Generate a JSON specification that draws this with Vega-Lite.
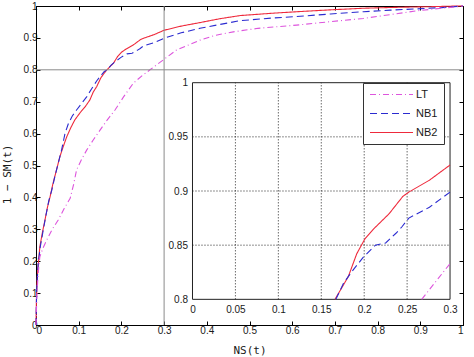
{
  "$schema": "https://vega.github.io/schema/vega-lite/v6.json",
  "width": 427,
  "height": 319,
  "autosize": {"type": "none"},
  "padding": {"left": 36, "top": 6, "right": 11, "bottom": 32},
  "background": "white",
  "config": {
    "view": {"stroke": "#000", "strokeWidth": 1},
    "axis": {"labelFont": "Liberation Sans", "labelFontSize": 10, "labelColor": "#1a1a1a", "domainColor": "#000", "tickColor": "#000", "grid": false, "labelOverlap": false, "tickCount": 20},
    "line": {"strokeWidth": 1.1}
  },
  "datasets": {
    "curves": [
      {"series":"NB2","x":0,"y":0},{"series":"NB2","x":0.001,"y":0.08},{"series":"NB2","x":0.002,"y":0.12},{"series":"NB2","x":0.004,"y":0.17},{"series":"NB2","x":0.009,"y":0.245},{"series":"NB2","x":0.015,"y":0.29},{"series":"NB2","x":0.021,"y":0.329},{"series":"NB2","x":0.027,"y":0.37},{"series":"NB2","x":0.033,"y":0.402},{"series":"NB2","x":0.04,"y":0.445},{"series":"NB2","x":0.048,"y":0.486},{"series":"NB2","x":0.056,"y":0.528},{"series":"NB2","x":0.064,"y":0.56},{"series":"NB2","x":0.072,"y":0.59},{"series":"NB2","x":0.082,"y":0.62},{"series":"NB2","x":0.091,"y":0.643},{"series":"NB2","x":0.103,"y":0.665},{"series":"NB2","x":0.115,"y":0.684},{"series":"NB2","x":0.126,"y":0.705},{"series":"NB2","x":0.134,"y":0.73},{"series":"NB2","x":0.142,"y":0.747},{"series":"NB2","x":0.152,"y":0.775},{"series":"NB2","x":0.16,"y":0.79},{"series":"NB2","x":0.166,"y":0.8},{"series":"NB2","x":0.1815,"y":0.821},{"series":"NB2","x":0.1913,"y":0.842},{"series":"NB2","x":0.201,"y":0.856},{"series":"NB2","x":0.211,"y":0.865},{"series":"NB2","x":0.229,"y":0.879},{"series":"NB2","x":0.245,"y":0.895},{"series":"NB2","x":0.252,"y":0.899},{"series":"NB2","x":0.276,"y":0.91},{"series":"NB2","x":0.3,"y":0.924},{"series":"NB2","x":0.34,"y":0.937},{"series":"NB2","x":0.384,"y":0.948},{"series":"NB2","x":0.43,"y":0.96},{"series":"NB2","x":0.478,"y":0.97},{"series":"NB2","x":0.55,"y":0.977},{"series":"NB2","x":0.61,"y":0.982},{"series":"NB2","x":0.69,"y":0.988},{"series":"NB2","x":0.767,"y":0.993},{"series":"NB2","x":0.85,"y":0.996},{"series":"NB2","x":0.93,"y":0.998},{"series":"NB2","x":0.99,"y":1.0},{"series":"NB2","x":1.0,"y":1.0},
      {"series":"NB1","x":0,"y":0},{"series":"NB1","x":0.001,"y":0.07},{"series":"NB1","x":0.002,"y":0.12},{"series":"NB1","x":0.005,"y":0.19},{"series":"NB1","x":0.01,"y":0.245},{"series":"NB1","x":0.016,"y":0.29},{"series":"NB1","x":0.022,"y":0.335},{"series":"NB1","x":0.03,"y":0.39},{"series":"NB1","x":0.037,"y":0.423},{"series":"NB1","x":0.045,"y":0.47},{"series":"NB1","x":0.052,"y":0.507},{"series":"NB1","x":0.06,"y":0.549},{"series":"NB1","x":0.068,"y":0.601},{"series":"NB1","x":0.076,"y":0.632},{"series":"NB1","x":0.085,"y":0.655},{"series":"NB1","x":0.095,"y":0.674},{"series":"NB1","x":0.107,"y":0.695},{"series":"NB1","x":0.119,"y":0.716},{"series":"NB1","x":0.13,"y":0.74},{"series":"NB1","x":0.142,"y":0.765},{"series":"NB1","x":0.152,"y":0.782},{"series":"NB1","x":0.16,"y":0.795},{"series":"NB1","x":0.167,"y":0.8},{"series":"NB1","x":0.176,"y":0.815},{"series":"NB1","x":0.187,"y":0.827},{"series":"NB1","x":0.199,"y":0.839},{"series":"NB1","x":0.213,"y":0.85},{"series":"NB1","x":0.225,"y":0.852},{"series":"NB1","x":0.237,"y":0.861},{"series":"NB1","x":0.244,"y":0.867},{"series":"NB1","x":0.252,"y":0.875},{"series":"NB1","x":0.276,"y":0.885},{"series":"NB1","x":0.3,"y":0.899},{"series":"NB1","x":0.34,"y":0.916},{"series":"NB1","x":0.384,"y":0.93},{"series":"NB1","x":0.43,"y":0.942},{"series":"NB1","x":0.478,"y":0.954},{"series":"NB1","x":0.55,"y":0.962},{"series":"NB1","x":0.61,"y":0.967},{"series":"NB1","x":0.69,"y":0.975},{"series":"NB1","x":0.767,"y":0.982},{"series":"NB1","x":0.83,"y":0.987},{"series":"NB1","x":0.892,"y":0.991},{"series":"NB1","x":0.95,"y":0.995},{"series":"NB1","x":0.99,"y":0.999},{"series":"NB1","x":1.0,"y":1.0},
      {"series":"LT","x":0,"y":0},{"series":"LT","x":0.002,"y":0.09},{"series":"LT","x":0.005,"y":0.16},{"series":"LT","x":0.009,"y":0.214},{"series":"LT","x":0.016,"y":0.24},{"series":"LT","x":0.025,"y":0.266},{"series":"LT","x":0.038,"y":0.3},{"series":"LT","x":0.052,"y":0.329},{"series":"LT","x":0.066,"y":0.365},{"series":"LT","x":0.08,"y":0.397},{"series":"LT","x":0.088,"y":0.44},{"series":"LT","x":0.095,"y":0.486},{"series":"LT","x":0.107,"y":0.52},{"series":"LT","x":0.119,"y":0.549},{"series":"LT","x":0.134,"y":0.58},{"series":"LT","x":0.15,"y":0.611},{"series":"LT","x":0.167,"y":0.643},{"series":"LT","x":0.185,"y":0.674},{"series":"LT","x":0.205,"y":0.715},{"series":"LT","x":0.228,"y":0.758},{"series":"LT","x":0.248,"y":0.781},{"series":"LT","x":0.267,"y":0.8},{"series":"LT","x":0.283,"y":0.816},{"series":"LT","x":0.3,"y":0.833},{"series":"LT","x":0.329,"y":0.862},{"series":"LT","x":0.384,"y":0.893},{"series":"LT","x":0.42,"y":0.908},{"series":"LT","x":0.462,"y":0.919},{"series":"LT","x":0.52,"y":0.93},{"series":"LT","x":0.61,"y":0.94},{"series":"LT","x":0.69,"y":0.951},{"series":"LT","x":0.767,"y":0.961},{"series":"LT","x":0.83,"y":0.973},{"series":"LT","x":0.892,"y":0.985},{"series":"LT","x":0.95,"y":0.993},{"series":"LT","x":0.99,"y":0.998},{"series":"LT","x":1.0,"y":1.0}
    ]
  },
  "data": {"name": "curves"},
  "layer": [
    {
      "layer": [
        {
          "mark": {"type": "line"},
          "encoding": {
            "x": {"field": "x", "type": "quantitative", "scale": {"domain": [0, 1], "nice": false, "zero": false},
              "axis": {"orient": "bottom", "values": [0,0.1,0.2,0.3,0.4,0.5,0.6,0.7,0.8,0.9,1], "tickCount": 20, "format": "~g", "tickSize": -4, "labelPadding": 4, "labelOverlap": false,
                "title": "NS(t)", "titleFont": "DejaVu Sans Mono", "titleFontSize": 11, "titleFontWeight": "normal", "titleColor": "#1a1a1a", "titleY": 25, "titleBaseline": "middle"}},
            "y": {"field": "y", "type": "quantitative", "scale": {"domain": [0, 1], "nice": false, "zero": false},
              "axis": {"orient": "left", "values": [0,0.1,0.2,0.3,0.4,0.5,0.6,0.7,0.8,0.9,1], "tickCount": 20, "format": "~g", "tickSize": -4, "labelPadding": 3, "labelOverlap": false, "labelFlush": false,
                "title": "1 − SM(t)", "titleFont": "DejaVu Sans Mono", "titleFontSize": 11, "titleFontWeight": "normal", "titleColor": "#1a1a1a", "titleX": -29, "titleY": 168, "titleAlign": "center", "titleBaseline": "middle"}},
            "color": {"field": "series", "type": "nominal", "scale": {"domain": ["LT", "NB1", "NB2"], "range": ["#dd55dd", "#2b2bd0", "#ee2a3c"]},
              "legend": {"orient": "none", "legendX": 327, "legendY": 77, "title": null, "fillColor": "white", "strokeColor": "#333", "padding": 6, "clipHeight": 11, "rowPadding": 7, "symbolSize": 1849, "symbolStrokeWidth": 1, "symbolType": "stroke", "labelFont": "Liberation Sans", "labelFontSize": 11, "labelOffset": 2, "labelColor": "#1a1a1a"}},
            "strokeDash": {"field": "series", "type": "nominal", "scale": {"domain": ["LT", "NB1", "NB2"], "range": [[6, 3, 1, 3], [7, 4], [1, 0]]},
              "legend": {"orient": "none", "legendX": 327, "legendY": 77, "title": null, "fillColor": "white", "strokeColor": "#333", "padding": 6, "clipHeight": 11, "rowPadding": 7, "symbolSize": 1849, "symbolStrokeWidth": 1, "symbolType": "stroke", "labelFont": "Liberation Sans", "labelFontSize": 11, "labelOffset": 2, "labelColor": "#1a1a1a"}}
          }
        },
        {
          "data": {"values": [{"v": 0.3}]},
          "mark": {"type": "rule", "color": "#8a8a8a", "strokeWidth": 1},
          "encoding": {"x": {"field": "v", "type": "quantitative"}}
        },
        {
          "data": {"values": [{"v": 0.8}]},
          "mark": {"type": "rule", "color": "#8a8a8a", "strokeWidth": 1},
          "encoding": {"y": {"field": "v", "type": "quantitative"}}
        }
      ]
    },
    {
      "mark": {"type": "line", "opacity": 0},
      "encoding": {
        "x": {"field": "x", "type": "quantitative", "scale": {"domain": [0, 1], "nice": false, "zero": false},
          "axis": {"orient": "top", "values": [0,0.1,0.2,0.3,0.4,0.5,0.6,0.7,0.8,0.9,1], "tickCount": 20, "labels": false, "domain": false, "tickSize": -4, "title": null}},
        "y": {"field": "y", "type": "quantitative", "scale": {"domain": [0, 1], "nice": false, "zero": false},
          "axis": {"orient": "right", "values": [0,0.1,0.2,0.3,0.4,0.5,0.6,0.7,0.8,0.9,1], "tickCount": 20, "labels": false, "domain": false, "tickSize": -4, "title": null}},
        "detail": {"field": "series"}
      }
    },
    {
      "layer": [
        {
          "data": {"values": [{"x0": 0, "x1": 0.3, "y0": 0.8, "y1": 1}]},
          "mark": {"type": "rect", "fill": "white", "stroke": "#222", "strokeWidth": 1},
          "encoding": {
            "x": {"field": "x0", "type": "quantitative", "scale": {"domain": [-0.1823, 0.3151], "nice": false, "zero": false},
              "axis": {"orient": "bottom", "offset": -26, "values": [0, 0.05, 0.1, 0.15, 0.2, 0.25, 0.3], "tickCount": 20, "format": "~g", "ticks": false, "domain": false, "labelPadding": 5, "labelOverlap": false, "title": null}},
            "x2": {"field": "x1"},
            "y": {"field": "y0", "type": "quantitative", "scale": {"domain": [0.7763, 1.0708], "nice": false, "zero": false},
              "axis": {"orient": "left", "offset": -156.5, "values": [0.8, 0.85, 0.9, 0.95, 1], "tickCount": 20, "format": "~g", "ticks": false, "domain": false, "labelPadding": 5, "labelOverlap": false, "title": null}},
            "y2": {"field": "y1"}
          }
        },
        {
          "data": {"values": [{"g": 0.05}, {"g": 0.1}, {"g": 0.15}, {"g": 0.2}, {"g": 0.25}]},
          "mark": {"type": "rule", "color": "#222", "strokeWidth": 1, "strokeDash": [1, 2]},
          "encoding": {"x": {"field": "g", "type": "quantitative"}, "y": {"datum": 0.8, "type": "quantitative"}, "y2": {"datum": 1}}
        },
        {
          "data": {"values": [{"g": 0.85}, {"g": 0.9}, {"g": 0.95}]},
          "mark": {"type": "rule", "color": "#222", "strokeWidth": 1, "strokeDash": [1, 2]},
          "encoding": {"y": {"field": "g", "type": "quantitative"}, "x": {"datum": 0, "type": "quantitative"}, "x2": {"datum": 0.3}}
        },
        {
          "transform": [{"filter": "datum.x <= 0.3 && datum.y >= 0.8"}],
          "mark": {"type": "line"},
          "encoding": {
            "x": {"field": "x", "type": "quantitative"},
            "y": {"field": "y", "type": "quantitative"},
            "color": {"field": "series", "type": "nominal"},
            "strokeDash": {"field": "series", "type": "nominal"}
          }
        }
      ]
    }
  ],
  "resolve": {"scale": {"x": "independent", "y": "independent"}}
}
